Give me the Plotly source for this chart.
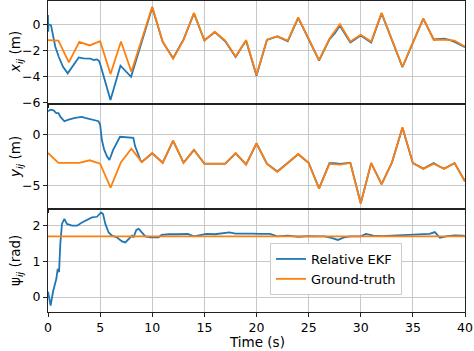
import plotly.graph_objects as go

# ---------------- data ----------------
gt_t = list(range(0, 41))
gt_x = [-1.21, -1.25, -2.92, -1.34, -1.62, -1.30, -3.82, -1.32, -3.64, -1.14,
        1.36, -1.32, -2.64, -1.21, 0.90, -1.26, -0.57, -1.25, -2.47, -1.21,
        -3.90, -1.17, -0.90, -1.25, 0.54, -1.10, -2.75, -1.10, 0.02, -1.32,
        -0.80, -1.32, 0.90, -1.18, -3.26, -1.40, 0.46, -1.20, -1.17, -1.25,
        -1.72]
gt_y = [-1.81, -2.78, -2.78, -2.78, -2.52, -2.85, -5.20, -2.70, -1.39, -2.70,
        -1.81, -2.78, -0.58, -2.78, -1.49, -2.87, -2.87, -2.87, -1.81, -2.94,
        -0.84, -2.87, -3.65, -2.78, -1.90, -2.78, -5.30, -2.87, -2.94, -2.78,
        -6.76, -2.78, -4.88, -2.70, 0.71, -2.78, -3.36, -2.85, -3.36, -2.78,
        -4.60]
gt_psi_t = [0, 40]
gt_psi = [1.70, 1.70]

ekf_x_t = [0, 0.02, 0.05, 0.29, 0.4, 0.7, 1.03, 1.44, 1.89, 2.47,
           2.95, 3.4, 4.07, 4.4, 4.7, 4.9, 5.03, 5.99, 6.95, 7.97,
           8.87, 9.2, 10, 11, 12, 13, 14, 15, 16, 17,
           17.5, 18, 18.5, 19, 20, 21, 22, 23, 24, 25,
           26, 27, 27.5, 28, 28.5, 29, 30, 31, 32, 33,
           34, 35, 36, 37, 37.5, 38, 38.5, 39, 40]
ekf_x = [0.72, -0.57, 0.02, -0.07, -0.45, -1.72, -2.49, -3.26, -3.77, -3.13,
         -2.54, -2.62, -2.64, -2.74, -2.69, -2.82, -3.13, -5.82, -3.18, -4.03,
         -1.72, -0.70, 1.30, -1.35, -2.60, -1.15, 0.85, -1.22, -0.60, -1.30,
         -1.90, -2.52, -1.85, -1.25, -3.95, -1.20, -0.92, -1.30, 0.50, -1.15,
         -2.78, -1.15, -0.70, -0.10, -0.78, -1.40, -0.85, -1.40, 0.85, -1.20,
         -3.30, -1.40, 0.42, -1.15, -1.15, -1.10, -1.20, -1.35, -1.75]

ekf_y_t = [0, 0.22, 0.54, 0.79, 1.0, 1.2, 1.57, 1.97, 2.6, 3.24,
           3.56, 4.04, 4.52, 4.84, 5.0, 5.16, 5.38, 5.64, 5.89, 6.27,
           6.91, 7.55, 8.19, 8.35, 8.67, 8.9, 9.0, 10, 11, 12,
           13, 14, 15, 16, 17, 18, 19, 20, 21, 22,
           23, 24, 25, 26, 27, 27.5, 28, 29, 30, 31,
           32, 33, 34, 35, 36, 37, 37.5, 38, 39, 40]
ekf_y = [2.27, 2.43, 2.36, 2.10, 2.10, 1.72, 1.30, 1.46, 1.62, 1.72,
         1.62, 1.52, 1.39, 1.30, 0.97, -0.49, -1.46, -2.10, -2.49, -1.46,
         -0.22, -0.26, -0.32, -1.13, -2.10, -2.59, -2.68, -1.83, -2.76, -0.62,
         -2.75, -1.52, -2.85, -2.86, -2.84, -1.84, -2.92, -0.88, -2.85, -3.62,
         -2.80, -1.93, -2.76, -5.27, -2.80, -2.80, -2.88, -2.76, -6.72, -2.80,
         -4.85, -2.72, 0.66, -2.80, -3.34, -2.80, -3.10, -3.32, -2.80, -4.58]

ekf_psi_t = [0, 0.25, 0.49, 0.8, 0.93, 1.06, 1.18, 1.34, 1.57, 1.82,
             2.3, 2.78, 3.26, 3.74, 4.22, 4.7, 5.09, 5.28, 5.5, 5.82,
             6.14, 6.62, 7.1, 7.42, 7.74, 8.06, 8.2, 8.47, 8.7, 9.0,
             9.34, 9.82, 10.6, 10.9, 11.6, 12.5, 13.4, 14.0, 14.6, 15.2,
             16.0, 16.8, 17.4, 18.0, 18.8, 19.6, 20.4, 21.3, 22.0, 23.0,
             24.0, 25.0, 26.0, 26.5, 27.2, 27.8, 28.4, 29.0, 30.0, 30.5,
             31.2, 32.0, 33.0, 34.0, 35.0, 35.8, 36.6, 37.1, 37.6, 38.3,
             39.0, 39.8, 40]
ekf_psi = [0.15, -0.24, 0.16, 0.51, 0.79, 0.70, 1.49, 2.05, 2.19, 2.05,
           2.00, 2.00, 2.09, 2.16, 2.23, 2.25, 2.37, 2.33, 2.05, 1.81,
           1.72, 1.67, 1.56, 1.53, 1.63, 1.72, 1.67, 1.88, 1.91, 1.81,
           1.70, 1.67, 1.67, 1.74, 1.76, 1.76, 1.77, 1.70, 1.74, 1.77,
           1.76, 1.79, 1.81, 1.78, 1.79, 1.78, 1.77, 1.77, 1.70, 1.72,
           1.69, 1.71, 1.70, 1.70, 1.66, 1.60, 1.67, 1.70, 1.70, 1.77,
           1.72, 1.71, 1.72, 1.73, 1.74, 1.76, 1.77, 1.82, 1.66, 1.71,
           1.73, 1.72, 1.70]

x_ticks = [0, 5, 10, 15, 20, 25, 30, 35, 40]
y1_ticks = [-6, -4, -2, 0]
y2_ticks = [-5, 0]
y3_ticks = [0, 1, 2]

# ---------------- figure ----------------
BLUE = "#1f77b4"
ORANGE = "#ff7f0e"
FONT = "DejaVu Sans"
LW = 1.8

fig = go.Figure()
panels = [("x", "y", ekf_x_t, ekf_x, gt_t, gt_x),
          ("x2", "y2", ekf_y_t, ekf_y, gt_t, gt_y),
          ("x3", "y3", ekf_psi_t, ekf_psi, gt_psi_t, gt_psi)]
for i, (xa, ya, et, ev, gt, gv) in enumerate(panels):
    fig.add_trace(go.Scatter(x=et, y=ev, xaxis=xa, yaxis=ya, mode="lines",
                             line=dict(color=BLUE, width=LW),
                             name="Relative EKF", showlegend=(i == 2)))
for i, (xa, ya, et, ev, gt, gv) in enumerate(panels):
    fig.add_trace(go.Scatter(x=gt, y=gv, xaxis=xa, yaxis=ya, mode="lines",
                             line=dict(color=ORANGE, width=LW),
                             name="Ground-truth", showlegend=(i == 2)))

axis_common = dict(showline=True, mirror=True, linecolor="#222222", linewidth=1,
                   showgrid=True, gridcolor="#c8c8c8", gridwidth=1,
                   ticks="outside", ticklen=4, tickcolor="#222222",
                   zeroline=False, tickfont=dict(family=FONT, size=12.5, color="black"))

doms = [[0.672, 1.0], [0.334, 0.666], [0.0, 0.328]]
xk = ["xaxis", "xaxis2", "xaxis3"]
yk = ["yaxis", "yaxis2", "yaxis3"]
yranges = [[-6.05, 1.8], [-7.2, 2.9], [-0.42, 2.44]]
yticks = [y1_ticks, y2_ticks, y3_ticks]
anchors_x = ["y", "y2", "y3"]
anchors_y = ["x", "x2", "x3"]
lay = {}
for i in range(3):
    lay[xk[i]] = dict(axis_common, domain=[0, 1], range=[0, 40], tickvals=x_ticks,
                      anchor=anchors_x[i], showticklabels=(i == 2))
    lay[yk[i]] = dict(axis_common, domain=doms[i], range=yranges[i],
                      tickvals=yticks[i], anchor=anchors_y[i])
fig.update_layout(**lay)

ylabels = ["<i>x</i><sub><i>ij</i></sub> (m)",
           "<i>y</i><sub><i>ij</i></sub> (m)",
           "ψ<sub><i>ij</i></sub> (rad)"]
ycent = [(312 - 52) / 311, (312 - 157) / 311, (312 - 261) / 311]
ann = []
for lbl, yc in zip(ylabels, ycent):
    ann.append(dict(text=lbl, xref="paper", yref="paper", x=(16 - 48) / 417, y=yc,
                    xanchor="center", yanchor="middle", textangle=-90, showarrow=False,
                    font=dict(family=FONT, size=13.5, color="black")))
ann.append(dict(text="Time (s)", xref="paper", yref="paper", x=0.5, y=(312 - 342) / 311,
                xanchor="center", yanchor="middle", showarrow=False,
                font=dict(family=FONT, size=13.5, color="black")))

fig.update_layout(
    width=474, height=351,
    margin=dict(l=48, r=9, t=1, b=39),
    paper_bgcolor="white", plot_bgcolor="white",
    annotations=ann,
    legend=dict(x=(270 - 48) / 417, y=(312 - 243) / 311, xanchor="left", yanchor="top",
                bgcolor="white", bordercolor="#cccccc", borderwidth=1,
                font=dict(family=FONT, size=13, color="black"),
                tracegroupgap=0),
    font=dict(family=FONT, color="black"),
)

fig.write_html("out.html")
